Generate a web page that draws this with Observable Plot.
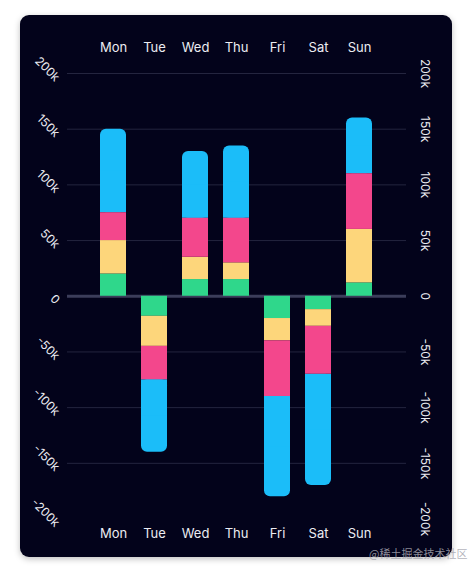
<!DOCTYPE html>
<html><head><meta charset="utf-8">
<script src="https://cdn.jsdelivr.net/npm/d3@7"></script>
<script src="https://cdn.jsdelivr.net/npm/@observablehq/plot@0.6"></script>
<style>
html,body{margin:0;padding:0;background:#fff;}
#panel{position:absolute;left:20px;top:15px;width:432px;height:542px;background:#03031b;border-radius:9px;box-shadow:0 2px 6px rgba(0,0,0,0.25);overflow:hidden;}
#panel svg{display:block;}
#wm{position:absolute;left:369px;top:545px;font:11px "Noto Sans CJK SC";color:rgba(165,165,175,0.85);}
</style></head><body>
<div id="panel"></div>
<div id="wm">@稀土掘金技术社区</div>
<script>
const days = ["Mon","Tue","Wed","Thu","Fri","Sat","Sun"];
const seriesNames = ["S1","S2","S3","S4"];
const series1 = [20000, -18000, 15000, 15000, -20000, -12000, 12000];
const series2 = [30000, -27000, 20000, 15000, -20000, -15000, 48000];
const series3 = [25000, -30000, 35000, 40000, -50000, -43000, 50000];
const series4 = [75000, -65000, 60000, 65000, -90000, -100000, 50000];
const yTicks = [-200000,-150000,-100000,-50000,0,50000,100000,150000,200000];
const colors = ["#2fd78b","#fdd67b","#f3478c","#1bbdf9"];

const seriesValues = [series1, series2, series3, series4];
const rows = [];
days.forEach((day, i) => {
  let cum = 0;
  seriesValues.forEach((vals, s) => {
    const v = vals[i];
    rows.push({day, series: seriesNames[s], y1: cum, y2: cum + v});
    cum += v;
  });
});
const inner = rows.filter(d => d.series !== "S4");
const outer = rows.filter(d => d.series === "S4");
const outerHalf = outer.map(d => ({...d, y2: (d.y1 + d.y2) / 2}));
const fmt = d => d === 0 ? "0" : `${d / 1000}k`;

const plot = Plot.plot({
  width: 432, height: 542,
  marginLeft: 47, marginRight: 46, marginTop: 58, marginBottom: 38.5,
  style: {background: "transparent", fontFamily: "Inter, Roboto, sans-serif", color: "#e8e8f0"},
  x: {type: "band", domain: days, paddingInner: 0.37, paddingOuter: 0.185, insetLeft: 24.3, insetRight: 25.3, axis: null},
  y: {domain: [-200000, 200000], axis: null},
  color: {domain: seriesNames, range: colors},
  marks: [
    Plot.ruleY(yTicks.filter(d => d !== 0 && d !== -200000), {stroke: "#24253f", strokeWidth: 1}),
    Plot.ruleY([0], {stroke: "#3b3d5a", strokeWidth: 3}),
    Plot.barY(outer, {x: "day", y1: "y1", y2: "y2", fill: "series", rx: 6}),
    Plot.barY(outerHalf, {x: "day", y1: "y1", y2: "y2", fill: "series"}),
    Plot.barY(inner, {x: "day", y1: "y1", y2: "y2", fill: "series"}),
    Plot.text(days, {x: d => d, frameAnchor: "top", dy: -31, fontSize: 13, fill: "#ececf2"}),
    Plot.text(days, {x: d => d, frameAnchor: "bottom", dy: 18.5, fontSize: 13, fill: "#ececf2"}),
    Plot.text(yTicks, {y: d => d, text: fmt, frameAnchor: "left", rotate: 45, textAnchor: "end", dx: -10, dy: 6, fontSize: 12, fill: "#ececf2"}),
    Plot.text(yTicks, {y: d => d, text: fmt, frameAnchor: "right", rotate: 90, textAnchor: "middle", dx: 18, fontSize: 12, fill: "#ececf2"})
  ]
});
document.getElementById("panel").appendChild(plot);
</script>
</body></html>
